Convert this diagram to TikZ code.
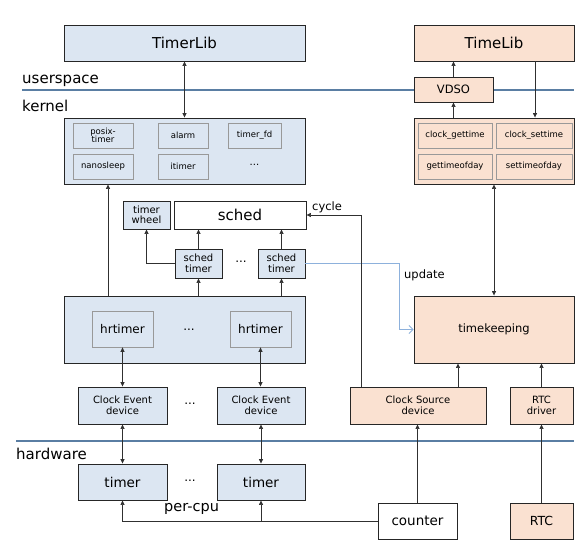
\documentclass[tikz,border=0pt]{standalone}
\usepackage{fontspec}
\setmainfont{DejaVu Sans}
\usetikzlibrary{arrows.meta}
\definecolor{bluefill}{HTML}{DCE6F2}
\definecolor{orangefill}{HTML}{FAE1D1}
\definecolor{sepline}{HTML}{5A7EA3}
\definecolor{updline}{HTML}{8DB1DC}
\definecolor{linec}{HTML}{303030}
\begin{document}
\begin{tikzpicture}[x=1pt,y=-1pt,
  box/.style={draw=black!85,line width=0.9pt,inner sep=0pt,align=center},
  bluebox/.style={box,fill=bluefill},
  orbox/.style={box,fill=orangefill},
  whitebox/.style={box,fill=white},
  inbox/.style={draw=black!40,line width=0.7pt,inner sep=0pt,align=center,font=\fontsize{8.5}{10}\selectfont},
  inblue/.style={inbox,fill=bluefill},
  inor/.style={inbox,fill=orangefill},
  lbl/.style={inner sep=0pt,anchor=base west},
  arr/.style={draw=linec,line width=0.7pt,-{Triangle[length=4.5pt,width=4pt]}},
  darr/.style={draw=linec,line width=0.7pt,{Triangle[length=4.5pt,width=4pt]}-{Triangle[length=4.5pt,width=4pt]}},
  sep/.style={draw=sepline,line width=2pt}
]
\useasboundingbox (0,0) rectangle (585,543);

% separator lines
\draw[sep] (22,90) -- (574,90);
\draw[sep] (16,441) -- (574,441);
\node[lbl,font=\fontsize{15}{18}\selectfont] (lus) at (22,83.5) {userspace};
\node[lbl,font=\fontsize{15}{18}\selectfont] (lkern) at (22,111) {kernel};
\node[lbl,font=\fontsize{15}{18}\selectfont] (lhw) at (16,459) {hardware};

% userspace
\node[bluebox,minimum width=241pt,minimum height=36pt,font=\fontsize{15}{18}\selectfont] (timerlib) at (184.5,43) {TimerLib};
\node[orbox,minimum width=160pt,minimum height=36pt,font=\fontsize{15}{18}\selectfont] (timelib) at (494,43) {TimeLib};
\node[orbox,minimum width=79pt,minimum height=25pt,font=\fontsize{11.5}{14}\selectfont] (vdso) at (453.5,89.5) {VDSO};

% kernel left
\node[bluebox,minimum width=241pt,minimum height=66pt] (kernL) at (184.5,151) {};
\node[inblue,minimum width=60pt,minimum height=25pt] (posix) at (103,135.5) {posix-\\[-2pt]timer};
\node[inblue,minimum width=50pt,minimum height=25pt] (alarm) at (183,135.5) {alarm};
\node[inblue,minimum width=53pt,minimum height=25pt] (timerfd) at (254.5,135.5) {timer\_fd};
\node[inblue,minimum width=60pt,minimum height=25pt] (nanosleep) at (103,166.5) {nanosleep};
\node[inblue,minimum width=50pt,minimum height=25pt] (itimer) at (183,166.5) {itimer};
\node[inner sep=0pt,font=\fontsize{10}{12}\selectfont] (dots1) at (254.5,165) {...};

% kernel right
\node[orbox,minimum width=160pt,minimum height=66pt] (kernR) at (494,151) {};
\node[inor,minimum width=74pt,minimum height=25pt] (cget) at (455,135.5) {clock\_gettime};
\node[inor,minimum width=76pt,minimum height=25pt] (cset) at (534,135.5) {clock\_settime};
\node[inor,minimum width=74pt,minimum height=25pt] (gtod) at (455,166.5) {gettimeofday};
\node[inor,minimum width=76pt,minimum height=25pt] (stod) at (534,166.5) {settimeofday};

% sched
\node[bluebox,minimum width=47pt,minimum height=28pt,font=\fontsize{10}{10.5}\selectfont] (twheel) at (146.5,215) {timer\\wheel};
\node[whitebox,minimum width=132pt,minimum height=28pt,font=\fontsize{15}{18}\selectfont] (sched) at (240,215) {sched};
\node[bluebox,minimum width=47pt,minimum height=29pt,font=\fontsize{10}{10.5}\selectfont] (st1) at (198.5,263.5) {sched\\timer};
\node[bluebox,minimum width=47pt,minimum height=29pt,font=\fontsize{10}{10.5}\selectfont] (st2) at (281.5,263.5) {sched\\timer};
\node[inner sep=0pt,font=\fontsize{12}{14}\selectfont] (dots2) at (241,262) {...};

% hrtimer
\node[bluebox,minimum width=241pt,minimum height=67pt] (hrbox) at (184.5,329.5) {};
\node[inblue,minimum width=61pt,minimum height=36pt,font=\fontsize{12}{14}\selectfont] (hr1) at (122.5,329) {hrtimer};
\node[inblue,minimum width=61pt,minimum height=36pt,font=\fontsize{12}{14}\selectfont] (hr2) at (260.5,329) {hrtimer};
\node[inner sep=0pt,font=\fontsize{12}{14}\selectfont] (dots3) at (189,330) {...};

% timekeeping
\node[orbox,minimum width=160pt,minimum height=67pt,font=\fontsize{11.5}{14}\selectfont] (tk) at (494,329.5) {timekeeping};

% devices
\node[bluebox,minimum width=89pt,minimum height=37pt,font=\fontsize{10}{11.5}\selectfont] (ce1) at (122.5,405.5) {Clock Event\\device};
\node[bluebox,minimum width=88pt,minimum height=37pt,font=\fontsize{10}{11.5}\selectfont] (ce2) at (261,405.5) {Clock Event\\device};
\node[inner sep=0pt,font=\fontsize{12}{14}\selectfont] (dots4) at (190,404) {...};
\node[orbox,minimum width=136pt,minimum height=37pt,font=\fontsize{10}{11.5}\selectfont] (cs) at (418,405.5) {Clock Source\\device};
\node[orbox,minimum width=63pt,minimum height=37pt,font=\fontsize{10}{11.5}\selectfont] (rtcd) at (541.5,405.5) {RTC\\driver};

% hardware
\node[bluebox,minimum width=89pt,minimum height=36pt,font=\fontsize{13.5}{16}\selectfont] (tm1) at (122.5,482) {timer};
\node[bluebox,minimum width=88pt,minimum height=36pt,font=\fontsize{13.5}{16}\selectfont] (tm2) at (261,482) {timer};
\node[inner sep=0pt,font=\fontsize{12}{14}\selectfont] (dots5) at (190,481) {...};
\node[whitebox,minimum width=79pt,minimum height=36pt,font=\fontsize{13.5}{16}\selectfont] (counter) at (417.5,521) {counter};
\node[orbox,minimum width=63pt,minimum height=36pt,font=\fontsize{12.5}{15}\selectfont] (rtc) at (541.5,521) {RTC};
\node[lbl,font=\fontsize{14.5}{17}\selectfont] (lpercpu) at (164,511) {per-cpu};

% labels
\node[lbl,font=\fontsize{11.5}{14}\selectfont] (lcycle) at (312,210) {cycle};
\node[lbl,font=\fontsize{11.5}{14}\selectfont] (lupdate) at (404,278) {update};

% connectors
\draw[darr] (timerlib) -- (kernL);
\draw[arr] (vdso.north) -- (vdso.north |- timelib.south);
\draw[arr] (vdso.south |- kernR.north) -- (vdso.south);
\draw[arr] ([xshift=41pt]timelib.south) -- ([xshift=41pt]kernR.north);
\draw[darr] (kernR) -- (tk);
\draw[arr] ([xshift=-76.5pt]hrbox.north) -- ([xshift=-76.5pt]kernL.south);
\draw[arr] (st1.north) -- (st1.north |- sched.south);
\draw[arr] (st2.north) -- (st2.north |- sched.south);
\draw[arr] (st1.west) -| (twheel.south);
\draw[arr] (st1.south |- hrbox.north) -- (st1.south);
\draw[arr] (st2.south |- hrbox.north) -- (st2.south);
\draw[draw=updline,line width=0.8pt,-{Straight Barb[length=4pt,width=8pt]}] (st2.east) -| ([xshift=-14pt]tk.west) -- (tk.west);
\draw[arr] ([xshift=-57pt]cs.north) |- (sched.east);
\draw[darr] (hr1) -- (ce1);
\draw[darr] (hr2.south) -- (hr2.south |- ce2.north);
\draw[darr] (ce1) -- (tm1);
\draw[darr] (ce2) -- (tm2);
\draw[arr] (counter.west) -| (tm1.south);
\draw[arr] (tm2.south |- counter.west) -- (tm2.south);
\draw[arr] (counter.north) -- (counter.north |- cs.south);
\draw[arr] (rtc) -- (rtcd);
\draw[arr] ([xshift=40pt]cs.north) -- ([xshift=40pt]cs.north |- tk.south);
\draw[arr] (rtcd.north) -- (rtcd.north |- tk.south);
\end{tikzpicture}
\end{document}
